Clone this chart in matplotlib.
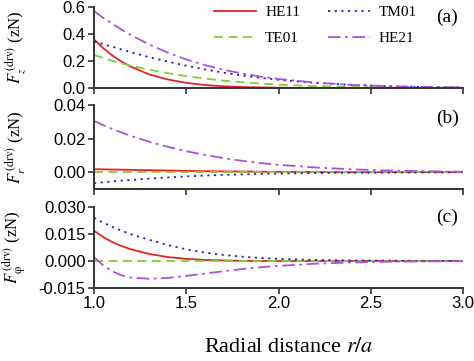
import matplotlib
matplotlib.use("Agg")
import matplotlib.pyplot as plt
import numpy as np

plt.rcParams['mathtext.fontset'] = 'stix'
plt.rcParams['font.family'] = 'Liberation Sans'

# radial distance r/a
r = [1.0, 1.05, 1.1, 1.15, 1.2, 1.3, 1.4, 1.5, 1.6, 1.7, 1.8, 1.9, 2.0, 2.2, 2.4, 2.6, 2.8, 3.0]

# (a) F_z
fz_he11 = [.36, .295, .24, .195, .158, .10, .063, .038, .022, .013, .007, .004, .002, .0005, 0, 0, 0, 0]
fz_te01 = [.245, .222, .201, .182, .165, .135, .11, .088, .07, .055, .043, .033, .025, .014, .008, .004, .002, .001]
fz_tm01 = [.345, .325, .305, .285, .265, .228, .195, .165, .138, .114, .093, .076, .061, .038, .023, .013, .007, .004]
fz_he21 = [.57, .52, .475, .432, .393, .322, .262, .212, .17, .136, .108, .085, .067, .04, .023, .013, .007, .004]

# (b) F_r
fr_he11 = [.0018, .0017, .0016, .0015, .0014, .0012, .001, .0008, .0006, .0005, .0004, .0003, .0002, .0001, 0, 0, 0, 0]
fr_te01 = [0] * 18
fr_tm01 = [-.0066, -.006, -.0055, -.005, -.0046, -.0038, -.0031, -.0025, -.002, -.0016, -.0013, -.001, -.0008, -.0005, -.0003, -.0002, -.0001, 0]
fr_he21 = [.0305, .028, .0257, .0236, .0216, .0181, .0151, .0125, .0103, .0084, .0068, .0055, .0044, .0028, .0017, .001, .0006, .0003]

# (c) F_phi
fp_he11 = [.0168, .0133, .0105, .0083, .0065, .0039, .0022, .0012, .0006, .0003, .0001, 0, 0, 0, 0, 0, 0, 0]
fp_te01 = [0] * 18
fp_tm01 = [.024, .0213, .0189, .0168, .0149, .0117, .0089, .0065, .0047, .0034, .0024, .0017, .0012, .0006, .0003, .0002, .0001, 0]
fp_he21 = [.0022, -.0025, -.0058, -.008, -.0092, -.0099, -.0094, -.0083, -.007, -.0057, -.0045, -.0035, -.0027, -.0015, -.0008, -.0004, -.0002, -.0001]

labels = ['HE11', 'TE01', 'TM01', 'HE21']
colors = ['#e8202a', '#80d030', '#2020d0', '#b050e0']
styles = ['-', (0, (5, 3)), (0, (1.2, 2.5)), (0, (7, 2.5, 1.5, 2.5))]

panels = [
    ([fz_he11, fz_te01, fz_tm01, fz_he21], (0, 0.6), [0.0, 0.2, 0.4, 0.6], '%.1f', 'z', '(a)', 0.877),
    ([fr_he11, fr_te01, fr_tm01, fr_he21], (-0.01, 0.04), [0.0, 0.02, 0.04], '%.2f', 'r', '(b)', 0.845),
    ([fp_he11, fp_te01, fp_tm01, fp_he21], (-0.015, 0.03), [-0.015, 0.0, 0.015, 0.030], '%.3f', r'\mathrm{φ}', '(c)', 0.877),
]

W, H = 474, 361
fig = plt.figure(figsize=(W / 100, H / 100), dpi=100)
# axes boxes in pixels: (top, bottom)
boxes = [(7, 88), (105, 189), (207, 288)]
x0, x1 = 94, 463

for i, (series, ylim, yt, fmt, sub, tag, ty) in enumerate(panels):
    top, bot = boxes[i]
    ax = fig.add_axes([x0 / W, 1 - bot / H, (x1 - x0) / W, (bot - top) / H])
    for s, lab, c, ls in zip(series, labels, colors, styles):
        ax.plot(r, s, color=c, ls=ls, lw=1.3, label=lab)
    ax.set_xlim(1.0, 3.0)
    ax.set_ylim(*ylim)
    ax.set_yticks(yt)
    ax.set_yticklabels([fmt % v for v in yt])
    ax.set_xticks([1.0, 1.5, 2.0, 2.5, 3.0])
    if i < 2:
        ax.set_xticklabels([])
    else:
        ax.set_xticklabels(['1.0', '1.5', '2.0', '2.5', '3.0'])
    for sp in ['top', 'right']:
        ax.spines[sp].set_visible(False)
    for sp in ['left', 'bottom']:
        ax.spines[sp].set_linewidth(1.4)
        ax.spines[sp].set_color('#333333')
    ax.tick_params(direction='out', length=4, width=1.2, color='#333333',
                   labelsize=12, pad=2)
    ax.set_ylabel(r'$F_{%s}^{\,\mathrm{(drv)}}$ (zN)' % sub, fontsize=12,
                  family='Liberation Serif')
    ax.yaxis.set_label_coords(-0.18, 0.5)
    ax.text(0.957, ty, tag, transform=ax.transAxes, ha='center', va='center',
            fontsize=14, family='Liberation Serif')
    if i == 0:
        ax.legend(ncol=2, loc='upper left', bbox_to_anchor=(0.325, 1.02),
                  frameon=False, prop={'family': 'Liberation Serif', 'size': 11},
                  handlelength=2.75, handletextpad=0.6, columnspacing=1.8,
                  labelspacing=0.8, borderpad=0, borderaxespad=0)

fig.text(289 / W, 1 - 347 / H, r'Radial distance $r/a$', ha='center', va='center',
         fontsize=16, family='Liberation Serif')

fig.savefig('out.png', dpi=100)
